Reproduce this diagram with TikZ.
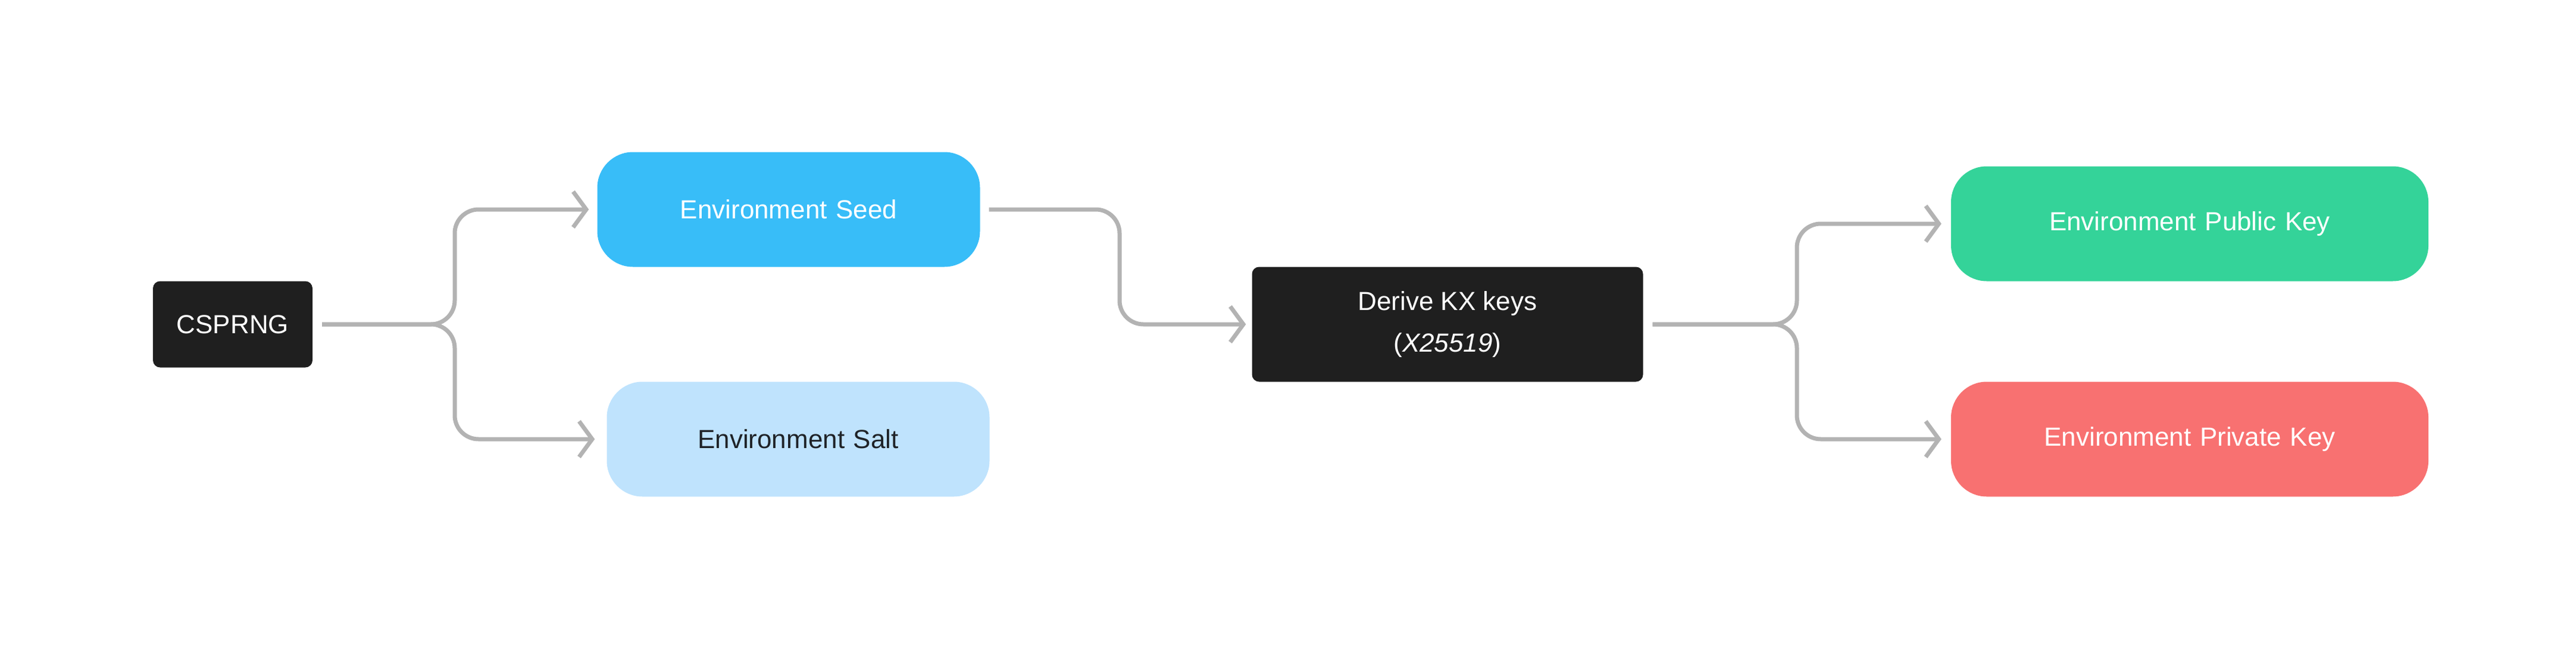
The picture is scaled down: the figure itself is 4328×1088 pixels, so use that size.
\documentclass[tikz,border=0pt]{standalone}
\usepackage{fontspec}
\setmainfont{Liberation Sans}
\usetikzlibrary{arrows.meta}
\definecolor{cblack}{HTML}{1F1F1F}
\definecolor{cseed}{HTML}{38BDF8}
\definecolor{csalt}{HTML}{BFE3FD}
\definecolor{cpub}{HTML}{34D399}
\definecolor{cpriv}{HTML}{F87171}
\definecolor{cline}{HTML}{B3B3B3}
\definecolor{ctext}{HTML}{1F2328}
\begin{document}
\begin{tikzpicture}[x=1pt,y=1pt,
  box/.style={inner sep=0pt, align=center, font=\fontsize{44}{70}\selectfont},
  dark/.style={box, fill=cblack, text=white, rounded corners=12},
  pill/.style={box, rounded corners=60, minimum height=193, text width=643, minimum width=643},
  conn/.style={draw=cline, line width=7, rounded corners=40, -{Straight Barb[length=22,width=60,line width=7]}}]
\useasboundingbox (0,0) rectangle (4328,-1088);
\node[dark, minimum width=268, minimum height=145] (c) at (391,-545) {CSPRNG};
\node[pill, fill=cseed, text=white] (seed) at (1325,-352) {Environment Seed};
\node[pill, fill=csalt, text=ctext] (salt) at (1341,-738) {Environment Salt};
\node[dark, minimum width=657, minimum height=193] (d) at (2432,-545) {Derive KX keys\\(\textit{X25519})};
\node[pill, fill=cpub, text=white, minimum width=802, text width=802] (pub) at (3679,-376) {Environment Public Key};
\node[pill, fill=cpriv, text=white, minimum width=802, text width=802] (priv) at (3679,-738) {Environment Private Key};
\coordinate (j1) at (764,-545);
\coordinate (j2) at (1881,-545);
\coordinate (j3) at (3019,-545);
\draw[conn] ([xshift=16]c.east) -- (j1) |- ([xshift=-14]seed.west);
\draw[conn] ([xshift=16]c.east) -- (j1) |- ([xshift=-20]salt.west);
\draw[conn] ([xshift=15]seed.east) -| (j2) -- ([xshift=-10]d.west);
\draw[conn] ([xshift=16]d.east) -- (j3) |- ([xshift=-16]pub.west);
\draw[conn] ([xshift=16]d.east) -- (j3) |- ([xshift=-16]priv.west);
\end{tikzpicture}
\end{document}
